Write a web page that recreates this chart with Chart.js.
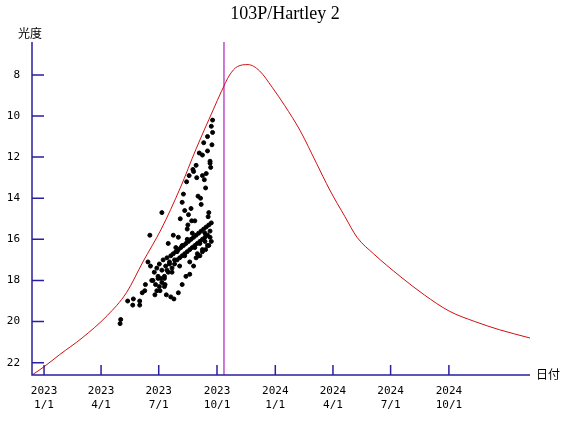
<!DOCTYPE html>
<html><head><meta charset="utf-8">
<script src="https://cdn.jsdelivr.net/npm/chart.js@4"></script>
<style>body{margin:0;background:#fff}</style>
</head><body><canvas id="c" width="567" height="426"></canvas>
<script>
// days since 2023-01-01
const curveDays = [-19,0,25,60,100,130,156,185,215,240,267,280,293,305,322,340,360,380,404,430,451,475,494,520,562,600,640,680,719,767];
const curveMags = [22.6,22.2,21.6,20.8,19.7,18.6,17.1,15.5,13.5,11.6,9.7,8.8,8.0,7.6,7.5,7.8,8.6,9.5,10.7,12.3,13.6,14.9,15.9,16.7,17.8,18.7,19.5,20.0,20.4,20.8];
const obsDays = [120,121,132,140,141,151,151,155,159,160,164,167,175,183,186,190,191,193,172,174,176,178,180,182,184,186,188,190,192,194,196,198,200,202,204,206,208,210,212,214,216,218,220,222,224,226,228,230,232,234,236,238,240,242,244,246,248,250,252,254,256,258,260,262,264,178,182,186,190,194,198,202,206,210,214,218,222,226,230,234,238,242,246,250,254,258,262,200,205,212,218,224,230,236,240,246,250,255,260,264,215,218,220,222,225,227,229,232,235,238,240,243,245,248,250,252,255,258,260,262,264,266,266,265,262,258,256,253,250,247,244,226,228,233,236,241,254,259,263,170,168,180,196,204,208,212];
const obsMags = [20.1,19.9,19.0,19.2,18.9,19.0,19.2,18.6,18.5,18.2,17.1,15.8,18.7,18.5,14.7,18.3,18.2,18.7,18.0,17.6,18.2,17.4,17.8,17.2,17.9,17.5,17.0,17.8,17.3,16.9,17.6,17.1,16.8,17.4,16.7,17.2,16.6,17.0,16.5,16.9,16.4,16.8,16.3,16.7,16.2,16.6,16.1,16.5,16.0,16.4,15.9,16.3,15.8,16.2,15.7,16.1,15.6,16.0,15.5,15.9,15.4,15.8,15.3,15.6,15.2,18.5,18.3,18.1,17.9,17.5,17.2,17.6,17.0,16.6,17.3,16.3,16.8,16.0,17.1,15.7,16.4,16.7,16.2,16.5,16.1,16.3,15.9,18.8,18.9,18.6,18.2,17.8,17.7,17.3,16.9,16.8,16.6,16.5,16.3,16.1,15.0,14.2,13.8,14.6,13.2,15.3,12.9,14.5,12.6,15.1,12.4,13.9,11.8,14.3,12.9,11.3,13.5,11.0,14.7,12.3,10.5,10.8,10.2,11.4,12.2,11.7,12.8,13.1,11.9,14.0,16.8,15.5,14.8,15.1,12.7,13.0,15.7,14.9,12.5,18.0,17.3,17.9,16.2,15.8,16.4,15.9];
const tickMags = [8,10,12,14,16,18,20,22];
const tickDays = [0,90,181,273,365,456,547,639];
const tickLabels = [['2023','1/1'],['2023','4/1'],['2023','7/1'],['2023','10/1'],['2024','1/1'],['2024','4/1'],['2024','7/1'],['2024','10/1']];
const periDay = 284;
const xMin=-19, xMax=767, yMin=6.4, yMax=22.6;
const axisCol='#2a1fa0';
const deco={id:'deco',afterDraw(ch){const c=ch.ctx,a=ch.chartArea,x=ch.scales.x,y=ch.scales.y;c.save();
c.strokeStyle=axisCol;c.lineWidth=1.5;c.beginPath();c.moveTo(a.left,a.top);c.lineTo(a.left,a.bottom);c.lineTo(a.right,a.bottom);c.stroke();
c.beginPath();tickDays.forEach(d=>{const p=x.getPixelForValue(d);c.moveTo(p,a.bottom);c.lineTo(p,a.bottom-10);});
tickMags.forEach(m=>{const p=y.getPixelForValue(m);c.moveTo(a.left,p);c.lineTo(a.left+12,p);});c.stroke();
c.fillStyle='#000';c.font='18px "Liberation Serif"';c.textAlign='center';c.textBaseline='middle';c.fillText('103P/Hartley 2',285,14);
c.font='12px "Noto Sans CJK JP"';c.textAlign='left';c.fillText('光度',18,33);c.fillText('日付',536,374);c.restore();}};
new Chart(document.getElementById('c'),{
data:{datasets:[
{type:'line',data:curveDays.map((d,i)=>({x:d,y:curveMags[i]})),borderColor:'#d01010',borderWidth:1,pointRadius:0,cubicInterpolationMode:'monotone',order:2},
{type:'line',data:[{x:periDay,y:yMin},{x:periDay,y:yMax}],borderColor:'#b020c0',borderWidth:1.2,pointRadius:0,order:3},
{type:'scatter',data:obsDays.map((d,i)=>({x:d,y:obsMags[i]})),backgroundColor:'#000',borderColor:'#000',pointRadius:2,order:1}
]},
options:{responsive:false,animation:false,events:[],devicePixelRatio:1,
layout:{padding:{top:42,right:37,left:0,bottom:0}},
plugins:{legend:{display:false},tooltip:{enabled:false}},
scales:{
x:{type:'linear',min:xMin,max:xMax,border:{display:false},grid:{display:false},
afterBuildTicks(s){s.ticks=tickDays.map(v=>({value:v}));},
afterFit(s){s.height=51;},
ticks:{autoSkip:false,maxRotation:0,color:'#000',font:{size:11,family:'"DejaVu Sans Mono"'},padding:2,callback:(v)=>tickLabels[tickDays.indexOf(v)]}},
y:{type:'linear',reverse:true,min:yMin,max:yMax,border:{display:false},grid:{display:false},
afterBuildTicks(s){s.ticks=tickMags.map(v=>({value:v}));},
afterFit(s){s.width=32;},
ticks:{autoSkip:false,color:'#000',font:{size:11,family:'"DejaVu Sans Mono"'},padding:4}}
}},plugins:[deco]});
</script></body></html>
